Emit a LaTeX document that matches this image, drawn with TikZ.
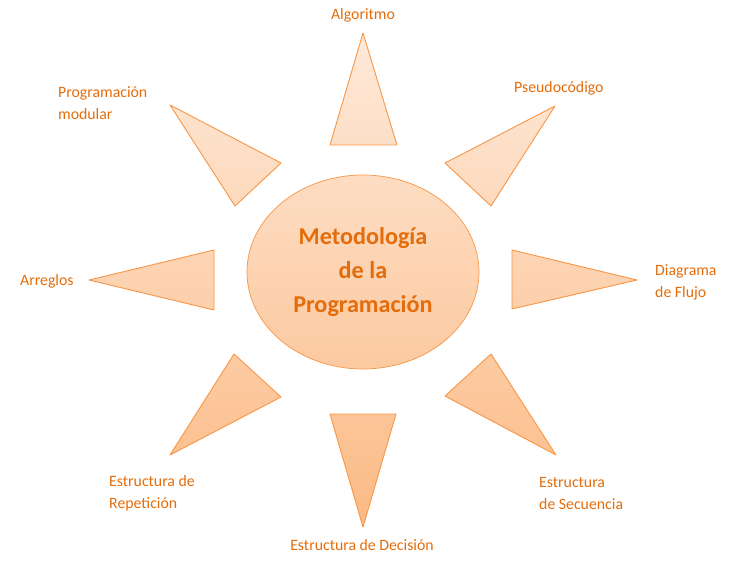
\documentclass[tikz,border=0pt]{standalone}
\usepackage{fontspec}
\setmainfont{Carlito}
\usetikzlibrary{shapes.geometric}

\definecolor{sunline}{HTML}{F79646}
\definecolor{suntext}{HTML}{E46C0A}
\definecolor{sunlite}{HTML}{FEEADB}
\definecolor{sundark}{HTML}{FBBA84}

\begin{document}
\begin{tikzpicture}[x=1pt,y=-1pt,
  ray/.style={draw=sunline, line width=0.9pt, line join=round},
  raytext/.style={text=suntext, font=\fontsize{15.8}{22}\selectfont, inner sep=0pt, align=left}]

  \useasboundingbox (0,0) rectangle (755,564);

% define the sun in the middle
  \node[ellipse, ray, line width=0.7pt, minimum width=232, minimum height=194, inner sep=0pt,
        top color=sunlite!72!sundark, bottom color=sunlite!32!sundark,
        text=suntext, align=center, font=\bfseries\fontsize{24.2}{34}\selectfont]
        (metodo) at (363,272) {Metodología\\de la\\Programación};

% define the rays
  \path[ray, top color=sunlite!99!sundark, bottom color=sunlite!77!sundark]
        (363,33) -- (397,145) -- (330,145) -- cycle;
  \path[ray, top color=sunlite!85!sundark, bottom color=sunlite!65!sundark]
        (555,106) -- (491,206) -- (445,163) -- cycle;
  \path[ray, top color=sunlite!85!sundark, bottom color=sunlite!65!sundark]
        (170,105) -- (281,163) -- (235,206) -- cycle;
  \path[ray, top color=sunlite!56!sundark, bottom color=sunlite!44!sundark]
        (637,280) -- (512,309) -- (512,250) -- cycle;
  \path[ray, top color=sunlite!56!sundark, bottom color=sunlite!44!sundark]
        (89,280) -- (214,250) -- (214,310) -- cycle;
  \path[ray, top color=sunlite!35!sundark, bottom color=sunlite!15!sundark]
        (556,455) -- (445,396) -- (491,354) -- cycle;
  \path[ray, top color=sunlite!35!sundark, bottom color=sunlite!15!sundark]
        (170,455) -- (234,354) -- (281,397) -- cycle;
  \path[ray, top color=sunlite!23!sundark, bottom color=sunlite!0!sundark]
        (363,527) -- (330,414) -- (396,414) -- cycle;

% define the labels
  \node[raytext]              (algo)    at (363,15)  {Algoritmo};
  \node[raytext, anchor=west] (pseudo)  at (514,88)  {Pseudocódigo};
  \node[raytext, anchor=west] (modular) at (58,103)  {Programación\\modular};
  \node[raytext, anchor=west] (arreglo) at (20,281)  {Arreglos};
  \node[raytext, anchor=west] (flujo)   at (655,282) {Diagrama\\de Flujo};
  \node[raytext, anchor=west] (repite)  at (109,493) {Estructura de\\Repetición};
  \node[raytext, anchor=west] (secuen)  at (539,493) {Estructura\\de Secuencia};
  \node[raytext]              (decide)  at (362,545) {Estructura de Decisión};

\end{tikzpicture}
\end{document}
